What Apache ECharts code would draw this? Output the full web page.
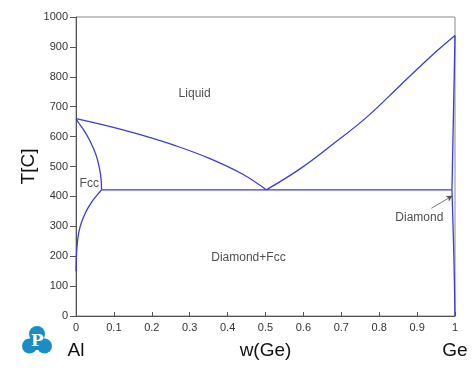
<!DOCTYPE html>
<html>
<head>
<meta charset="utf-8">
<script src="https://cdn.jsdelivr.net/npm/echarts@6/dist/echarts.min.js"></script>
<style>
  html, body { margin: 0; padding: 0; background: #fff; }
  #chart { width: 474px; height: 376px; }
</style>
</head>
<body>
<div id="chart"></div>
<script>
// phase boundaries, [w(Ge), T in C]
var liquidusAl = [[0, 660], [0.088, 634], [0.176, 604], [0.264, 569], [0.352, 527], [0.44, 474], [0.502, 422]];
var liquidusGe = [[0.502, 422], [0.592, 493], [0.68, 577], [0.768, 666], [0.856, 772], [0.944, 877], [1, 938]];
var solidusFcc = [[0, 660], [0.0058, 648], [0.021, 621], [0.036, 588], [0.053, 538], [0.063, 487], [0.0663, 455], [0.0675, 422]];
var solvusFcc = [[0.0675, 422], [0.062, 414], [0.056, 405], [0.05, 396], [0.044, 386], [0.038, 374], [0.031, 360], [0.0245, 344],
  [0.017, 322], [0.011, 299], [0.007, 277], [0.004, 250], [0.002, 220], [0.0008, 190], [0, 150]];
var eutectic = [[0.0675, 422], [0.992, 422]];
var solidusDia = [[1, 938], [0.992, 422]];
var solvusDia = [[0.992, 422], [0.997, 200], [1, 0]];

// region labels
var regionLabels = [
  { name: 'Liquid', value: [0.313, 745] },
  { name: 'Fcc', value: [0.035, 444] },
  { name: 'Diamond+Fcc', value: [0.455, 196] },
  { name: 'Diamond', value: [0.906, 330] }
];
var arrowFrom = [0.9375, 360];
var arrowTo = [0.993, 402];

var bottomLabels = { 0: 'Al', 0.5: 'w(Ge)', 1: 'Ge' };

var chartDom = document.getElementById('chart');
var myChart = echarts.init(chartDom);

var lineColor = '#3c3cd8';
var font = 'Liberation Sans, Arial, sans-serif';

function boundary(data, smooth) {
  return {
    type: 'line',
    data: data,
    smooth: smooth ? 0.4 : false,
    showSymbol: false,
    symbol: 'none',
    silent: true,
    lineStyle: { color: lineColor, width: 1.3 },
    xAxisIndex: 0, yAxisIndex: 0
  };
}

var option = {
  animation: false,
  textStyle: { fontFamily: font },
  grid: {
    left: 76, right: 19, top: 17, bottom: 60,
    show: true, borderColor: '#8a8a8a', borderWidth: 1
  },
  xAxis: [
    {
      type: 'value', min: 0, max: 1, interval: 0.1,
      axisLine: { show: true, lineStyle: { color: '#555' } },
      axisTick: { show: true, inside: true, length: 4, lineStyle: { color: '#555' } },
      axisLabel: {
        color: '#333', fontSize: 11, margin: 6,
        formatter: function (v) { return String(Math.round(v * 10) / 10); }
      },
      splitLine: { show: false }
    },
    {
      type: 'value', min: 0, max: 1, interval: 0.5, position: 'bottom', offset: 23,
      axisLine: { show: false }, axisTick: { show: false }, splitLine: { show: false },
      axisLabel: {
        color: '#111', fontSize: 19, margin: 2,
        formatter: function (v) { return bottomLabels[v] || ''; }
      }
    }
  ],
  yAxis: {
    type: 'value', min: 0, max: 1000, interval: 100,
    name: 'T[C]', nameLocation: 'middle', nameGap: 38, nameRotate: 90,
    nameMoveOverlap: false,
    nameTextStyle: { fontSize: 19, color: '#111' },
    axisLine: { show: true, lineStyle: { color: '#555' } },
    axisTick: { show: true, inside: false, length: 6, lineStyle: { color: '#555' } },
    axisLabel: {
      color: '#333', fontSize: 11, margin: 8,
      formatter: function (v) { return String(v); }
    },
    splitLine: { show: false }
  },
  series: [
    boundary(liquidusAl, true),
    boundary(liquidusGe, true),
    boundary(solidusFcc, true),
    boundary(solvusFcc, true),
    boundary(eutectic, false),
    boundary(solidusDia, false),
    boundary(solvusDia, true),
    {
      type: 'scatter',
      symbolSize: 0,
      silent: true,
      data: regionLabels,
      label: {
        show: true, position: 'inside', formatter: '{b}',
        color: '#222', fontSize: 12, fontFamily: font
      },
      markLine: {
        silent: true,
        symbol: ['none', 'arrow'],
        symbolSize: [5, 6],
        label: { show: false },
        lineStyle: { color: '#555', width: 0.8, type: 'solid' },
        data: [[{ coord: arrowFrom }, { coord: arrowTo, itemStyle: { color: '#000' } }]]
      }
    }
  ],
  graphic: [
    {
      type: 'group', left: 22, top: 326,
      children: [
        { type: 'circle', shape: { cx: 15, cy: 8, r: 8 }, style: { fill: '#1a8ec4' } },
        { type: 'circle', shape: { cx: 7.5, cy: 20, r: 7.5 }, style: { fill: '#1a8ec4' } },
        { type: 'circle', shape: { cx: 22.5, cy: 20, r: 7.5 }, style: { fill: '#1a8ec4' } },
        { type: 'polygon', shape: { points: [[15, 2], [0.5, 24], [29.5, 24]] }, style: { fill: '#1a8ec4' } },
        {
          type: 'text', x: 15.5, y: 16,
          style: {
            text: 'P', fill: '#fff', font: 'bold 17px "DejaVu Serif", serif',
            align: 'center', verticalAlign: 'middle'
          }
        }
      ]
    }
  ]
};

myChart.setOption(option);

window.addEventListener('resize', function () {
  myChart.resize();
});
</script>
</body>
</html>
